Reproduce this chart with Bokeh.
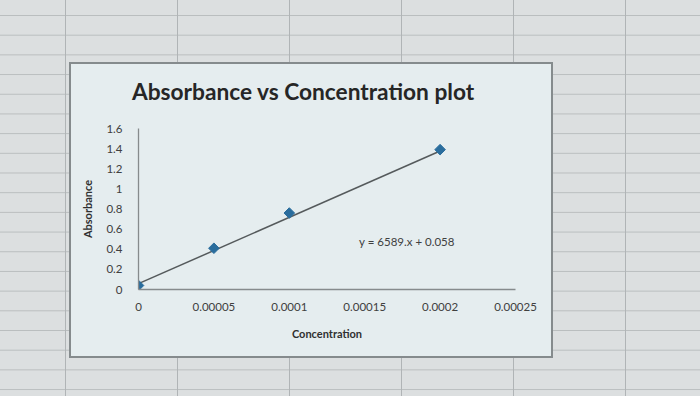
import math
from bokeh.plotting import figure
from bokeh.models import FixedTicker, Label, Column, Div, CustomJSTickFormatter
from bokeh.embed import file_html
from bokeh.resources import INLINE

# ---- data ----
concentration = [0.0, 0.00005, 0.0001, 0.0002]
absorbance = [0.04, 0.41, 0.76, 1.39]

trend_slope = 6589
trend_intercept = 0.058
trend_x = [0.0, 0.0002]

x_ticks = [0.0, 0.00005, 0.0001, 0.00015, 0.0002, 0.00025]
x_tick_labels = ["0", "0.00005", "0.0001", "0.00015", "0.0002", "0.00025"]
y_ticks = [0.0, 0.2, 0.4, 0.6, 0.8, 1.0, 1.2, 1.4, 1.6]
y_tick_labels = ["0", "0.2", "0.4", "0.6", "0.8", "1", "1.2", "1.4", "1.6"]

title_text = "Absorbance vs Concentration plot"
x_title = "Concentration"
y_title = "Absorbance"
equation_text = f"y = {trend_slope}.x + {trend_intercept}"

trend_y = [trend_slope * x + trend_intercept for x in trend_x]

FONT = "Lato"
CHART_BG = "#e5edef"

p = figure(
    width=483, height=251,
    x_range=(0, 0.00025), y_range=(0, 1.6),
    output_backend="svg", toolbar_location=None,
    min_border_left=68, min_border_right=38,
    min_border_top=21, min_border_bottom=69,
    background_fill_color=None, border_fill_color=None,
    outline_line_color=None,
)
p.margin = (0, 147, 38, 70)
p.title.text = ""
p.title.standoff = 0
p.title.text_font_size = "1px"

p.xgrid.visible = False
p.ygrid.visible = False

fmt_code = """
const i = tvals.findIndex(t => Math.abs(t - tick) < 1e-9);
return i >= 0 ? tlabels[i] : '';
"""
p.xaxis.ticker = FixedTicker(ticks=x_ticks)
p.xaxis.formatter = CustomJSTickFormatter(args=dict(tvals=x_ticks, tlabels=x_tick_labels), code=fmt_code)
p.yaxis.ticker = FixedTicker(ticks=y_ticks)
p.yaxis.formatter = CustomJSTickFormatter(args=dict(tvals=y_ticks, tlabels=y_tick_labels), code=fmt_code)

for ax in (p.xaxis[0], p.yaxis[0]):
    ax.axis_line_color = "#868b8d"
    ax.axis_line_width = 1.3
    ax.major_tick_in = 0
    ax.major_tick_out = 0
    ax.minor_tick_in = 0
    ax.minor_tick_out = 0
    ax.major_label_text_font = FONT
    ax.major_label_text_font_size = "11.5px"
    ax.major_label_text_color = "#404040"
    ax.axis_label_text_font = FONT
    ax.axis_label_text_font_size = "11px"
    ax.axis_label_text_font_style = "bold"
    ax.axis_label_text_color = "#303030"

p.xaxis.axis_label = x_title
p.yaxis.axis_label = y_title
p.xaxis.major_label_standoff = 13
p.xaxis.axis_label_standoff = 13
p.yaxis.major_label_standoff = 16
p.yaxis.axis_label_standoff = 9

p.line(trend_x, trend_y, line_color="#555a5c", line_width=1.5)
p.scatter(concentration, absorbance, marker="square", size=7.5, angle=math.pi / 4,
          fill_color="#2a6d9d", line_color="#2a6d9d")

p.add_layout(Label(x=0.0001463, y=0.477, text=equation_text,
                   text_font=FONT, text_font_size="11.5px",
                   text_color="#404040", text_baseline="middle"))

title_style = ("font-family: Lato; font-size: 22.7px; font-weight: bold; "
               "color: #262626; line-height: 30px; white-space: nowrap; margin: 0;")
title_div = Div(
    text=f'<div style="{title_style}">{title_text}</div>',
    width=400, height=30, margin=(77, 0, 0, 132),
    styles={"font-family": "Lato", "font-size": "22.7px", "font-weight": "bold",
            "color": "#262626", "line-height": "30px"},
)

page = Column(
    children=[title_div, p], width=700, height=396, spacing=0,
    styles={
        "background-color": "#dcdfe0",
        "background-image": (
            f"linear-gradient({CHART_BG}, {CHART_BG}), "
            "linear-gradient(#858b8d, #858b8d), "
            "linear-gradient(to right, #b0b4b6 1px, transparent 1px), "
            "linear-gradient(to bottom, #babebf 1px, transparent 1px)"
        ),
        "background-size": "480px 292px, 484px 296px, 112px 100%, 100% 19.7px",
        "background-position": "71px 64px, 69px 62px, 65px 0, 0 15px",
        "background-repeat": "no-repeat, no-repeat, repeat, repeat",
    },
)

open("out.html", "w").write(file_html(page, INLINE))
